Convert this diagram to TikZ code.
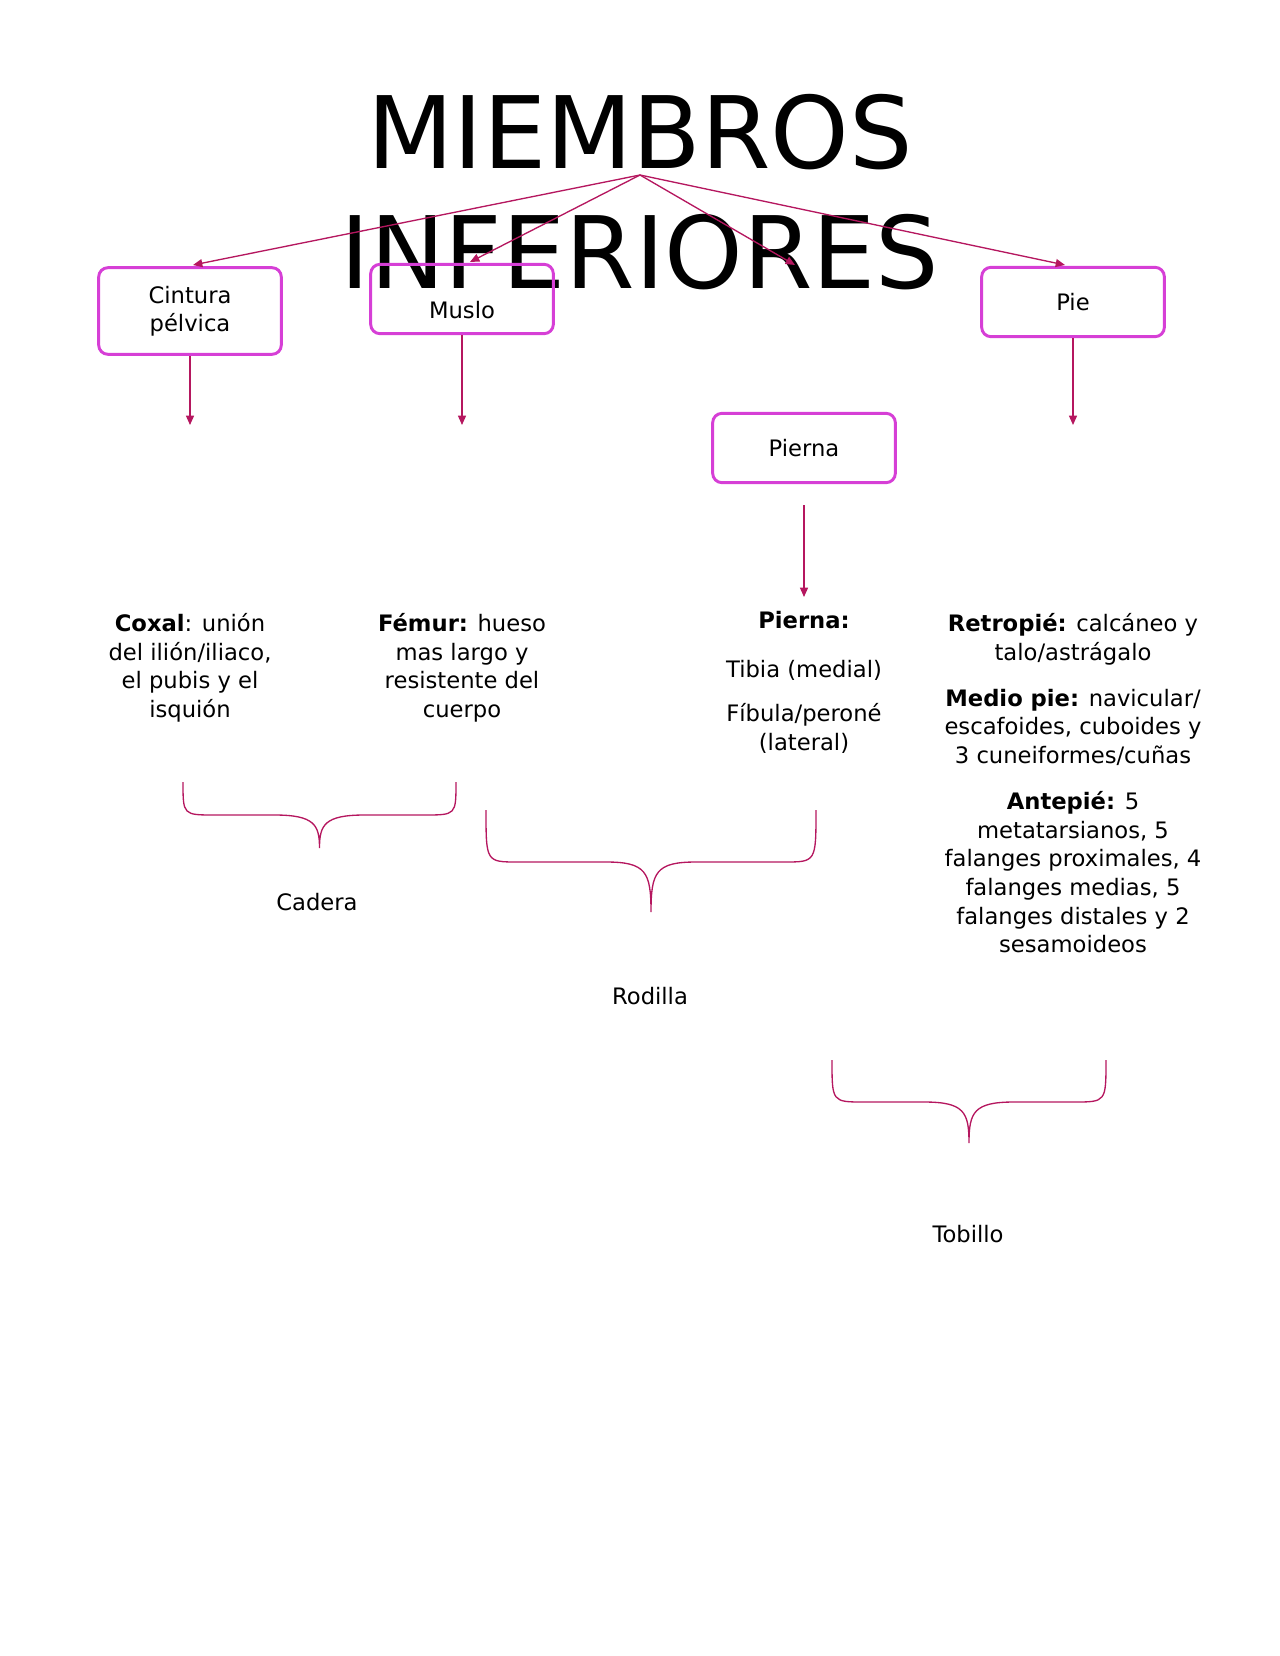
\documentclass[tikz,border=0pt]{standalone}
\usepackage{fontspec}
\setmainfont{DejaVu Sans}
\usetikzlibrary{arrows.meta}
\definecolor{arr}{HTML}{B5175F}
\definecolor{bx}{HTML}{D63FD6}
\tikzset{
 x=0.75pt,y=-0.75pt,
 box/.style={draw=bx,line width=2.2pt,rounded corners=7pt,minimum width=137pt,align=center,font=\fontsize{17}{21}\selectfont,inner sep=0pt},
 con/.style={draw=arr,line width=1pt,-{Triangle[length=7pt,width=6pt]}},
 txt/.style={align=center,font=\fontsize{17}{21.5}\selectfont,inner sep=0pt},
 brc/.style={draw=arr,line width=1pt}
}
\newcommand{\brc}[5]{% x1 x2 top h point
 \pgfmathsetmacro{\mid}{(#1+#2)/2}
 \draw[brc] (#1,#3) .. controls (#1,#4) .. (#1+32,#4) -- (\mid-45,#4) .. controls (\mid-5,#4) and (\mid,#4+10) .. (\mid,#5) .. controls (\mid,#4+10) and (\mid+5,#4) .. (\mid+45,#4) -- (#2-32,#4) .. controls (#2,#4) .. (#2,#3);}
\begin{document}
\begin{tikzpicture}
\useasboundingbox (0,0) rectangle (1280,1656);
\node[font=\fontsize{75}{90}\selectfont,align=center,inner sep=0pt] (title) at (640,192) {MIEMBROS\\INFERIORES};
\coordinate (hub) at (640,175);
\node[box,minimum height=65pt] (cin) at (190,311) {Cintura\\pélvica};
\node[box,minimum height=52pt] (mus) at (462,299) {};
\node[txt] (muslbl) at (462,310) {Muslo};
\node[box,minimum height=52pt] (pie) at (1073,302) {Pie};
\node[box,minimum height=52pt] (pier) at (804,448) {Pierna};
\draw[con] (hub) -- (193,265);
\draw[con] (hub) -- (470,262);
\draw[con] (hub) -- (795,265);
\draw[con] (hub) -- (1065,265);
\coordinate (c1) at (190,425);
\coordinate (c2) at (462,425);
\coordinate (c3) at (1073,425);
\coordinate (c4a) at (804,505);
\coordinate (c4) at (804,597);
\draw[con] (cin) -- (c1);
\draw[con] (mus) -- (c2);
\draw[con] (pie) -- (c3);
\draw[con] (c4a) -- (c4);
\node[txt,anchor=north] (cox) at (190,613) {\textbf{Coxal}: unión\\del ilión/iliaco,\\el pubis y el\\isquión};
\node[txt,anchor=north] (fem) at (462,613) {\textbf{Fémur:} hueso\\mas largo y\\resistente del\\cuerpo};
\node[txt,anchor=north] (pt) at (804,611) {\textbf{Pierna:}\\[15pt]Tibia (medial)\\[12pt]Fíbula/peroné\\(lateral)};
\node[txt,anchor=north] (pt2) at (1073,613) {\textbf{Retropié:} calcáneo y\\talo/astrágalo\\[13pt]\textbf{Medio pie:} navicular/\\escafoides, cuboides y\\3 cuneiformes/cuñas\\[13pt]\textbf{Antepié:} 5\\metatarsianos, 5\\falanges proximales, 4\\falanges medias, 5\\falanges distales y 2\\sesamoideos};
\brc{183}{456}{782}{815}{848}
\brc{486}{816}{810}{862}{912}
\brc{832}{1106}{1060}{1102}{1143}
\node[txt] (cad) at (317,902) {Cadera};
\node[txt] (rod) at (650,996) {Rodilla};
\node[txt] (tob) at (968,1234) {Tobillo};
\end{tikzpicture}
\end{document}
